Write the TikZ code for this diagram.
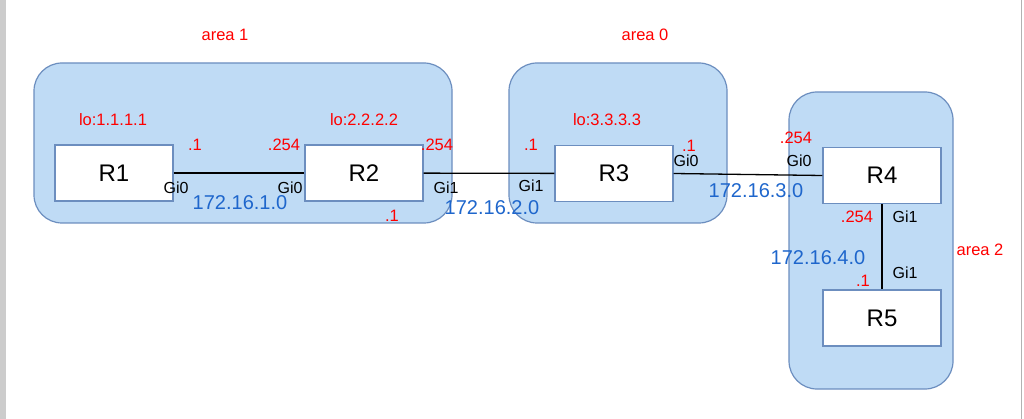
\documentclass[tikz,border=0pt]{standalone}
\usepackage{fontspec}
\setmainfont{Liberation Sans}
\begin{document}
\begin{tikzpicture}[x=1pt,y=-1pt,
 area/.style={draw=areaB,fill=areaF,line width=1.2pt,rounded corners=28pt},
 router/.style={draw=areaB,fill=white,line width=1.2pt,minimum width=118pt,minimum height=56pt,inner sep=0pt,font=\fontsize{24}{24}\selectfont},
 red/.style={text=red,font=\fontsize{16.5}{16.5}\selectfont,inner sep=0pt},
 gi/.style={text=black,font=\fontsize{16}{16}\selectfont,inner sep=0pt},
 net/.style={text=netB,font=\fontsize{20}{20}\selectfont,inner sep=0pt},
 link/.style={line width=1.3pt,black}]
\definecolor{areaF}{HTML}{BFDBF5}
\definecolor{areaB}{HTML}{6C8EBF}
\definecolor{netB}{HTML}{1E66CC}
\useasboundingbox (0,0) rectangle (1024,419);
\fill[gray!40] (0,0) rectangle (6,419);
\draw[gray!60,line width=1pt] (1021,0) -- (1021,419);
\draw[area] (34,63) rectangle (452,223);
\draw[area] (509,63) rectangle (727,223);
\draw[area] (789,92) rectangle (953,389);
\node[router] (R1) at (114,173) {R1};
\node[router] (R2) at (364,173) {R2};
\node[router] (R3) at (614,173.5) {R3};
\node[router] (R4) at (882,175.5) {R4};
\node[router] (R5) at (882,318) {R5};
\draw[link] (R1) -- (R2);
\draw[link] (R2) -- (R3);
\draw[link] (R3.east) -- (R4.west);
\draw[link] (R4) -- (R5);
\node[red] (a1) at (225,35) {area 1};
\node[red] (a0) at (645,35) {area 0};
\node[red] (a2) at (980,250) {area 2};
\node[red] (lo1) at (113,120) {lo:1.1.1.1};
\node[red] (lo2) at (364,120) {lo:2.2.2.2};
\node[red] (lo3) at (607,120) {lo:3.3.3.3};
\node[red] (i1) at (195,145) {.1};
\node[red] (i2) at (284,145) {.254};
\node[red] (i3) at (437,145) {.254};
\node[red] (i4) at (392,216) {.1};
\node[red] (i5) at (531,145) {.1};
\node[red] (i6) at (689,146) {.1};
\node[red] (i7) at (796,138) {.254};
\node[red] (i8) at (857,217) {.254};
\node[red] (i9) at (863,281) {.1};
\node[gi] (g1) at (176,188) {Gi0};
\node[gi] (g2) at (290,188) {Gi0};
\node[gi] (g3) at (446,188) {Gi1};
\node[gi] (g4) at (531,186) {Gi1};
\node[gi] (g5) at (686,161) {Gi0};
\node[gi] (g6) at (799,161) {Gi0};
\node[gi] (g7) at (905,217) {Gi1};
\node[gi] (g8) at (905,273) {Gi1};
\node[net] (n1) at (240,203) {172.16.1.0};
\node[net] (n2) at (492,208) {172.16.2.0};
\node[net] (n3) at (756,191) {172.16.3.0};
\node[net] (n4) at (818,258) {172.16.4.0};
\end{tikzpicture}
\end{document}
